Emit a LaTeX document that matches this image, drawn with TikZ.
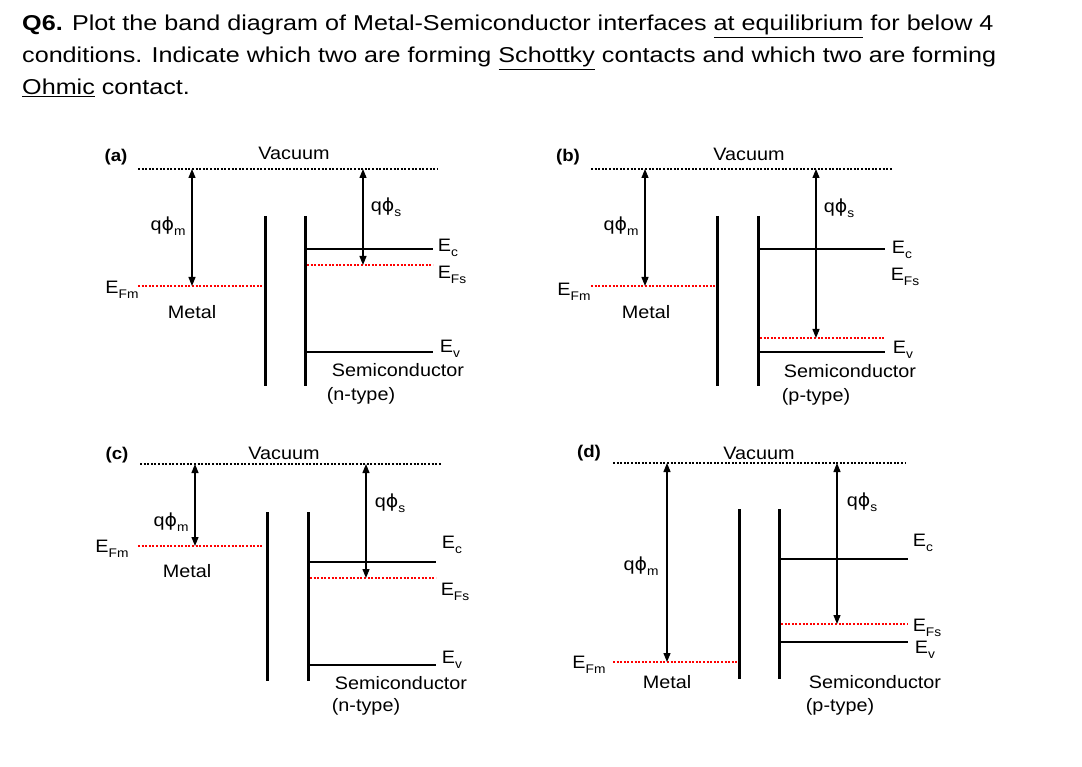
\documentclass[tikz,border=0pt]{standalone}
\usepackage{fontspec}
\setmainfont[FakeStretch=1.1]{Liberation Sans}
\newfontfamily\titlefont[FakeStretch=1.17]{Liberation Sans}
\newfontfamily\phifont[FakeStretch=1.05]{DejaVu Sans}
\usetikzlibrary{arrows.meta}
\newcommand{\lsub}[1]{\raisebox{-0.25em}{\fontsize{12.5}{12}\selectfont #1}}
\newcommand{\qphi}[1]{q{\phifont ϕ}\lsub{#1}}
\newcommand{\lev}[1]{E\lsub{#1}}
\tikzset{
  vac/.style={line width=1.9pt, dash pattern=on 1.9pt off 1.7pt},
  fermi/.style={vac, red},
  band/.style={line width=1.8pt},
  wall/.style={line width=3pt},
  dim/.style={line width=1.2pt, {Triangle[length=9pt,width=7pt]}-{Triangle[length=9pt,width=7pt]}},
  lbl/.style={font=\fontsize{18}{20}\selectfont, inner sep=0pt},
  tag/.style={font=\bfseries\fontsize{17}{20}\selectfont, inner sep=0pt},
  ttl/.style={font=\titlefont\fontsize{21.5}{24}\selectfont, inner sep=0pt, anchor=base west}
}
\begin{document}
\begin{tikzpicture}[x=1pt,y=-1pt]
\useasboundingbox (0,0) rectangle (1082,767);
% title
\node[ttl] (t1) at (22,31) {\textbf{Q6.} Plot the band diagram of Metal-Semiconductor interfaces \underline{at equilibrium} for below 4};
\node[ttl] (t2) at (22,63) {conditions. Indicate which two are forming \underline{Schottky} contacts and which two are forming};
\node[ttl] (t3) at (22,95) {\underline{Ohmic} contact.};

% ---------------- (a)
\node[tag] (a-tag) at (116,157) {(a)};
\node[lbl] (a-vac) at (294,153) {Vacuum};
\coordinate (a-v1) at (138,169); \coordinate (a-v2) at (438,169);
\draw[vac] (a-v1) -- (a-v2);
\coordinate (a-f1) at (138,286); \coordinate (a-f2) at (263,286);
\draw[fermi] (a-f1) -- (a-f2);
\coordinate (a-mt) at (192,169); \coordinate (a-mb) at (192,286);
\draw[dim] (a-mt) -- (a-mb);
\node[lbl] (a-qm) at (168,226) {\qphi{m}};
\node[lbl] (a-efm) at (122,290) {\lev{Fm}};
\node[lbl] (a-metal) at (192,312) {Metal};
\coordinate (a-w1t) at (265,216); \coordinate (a-w1b) at (265,386);
\draw[wall] (a-w1t) -- (a-w1b);
\coordinate (a-w2t) at (305,216); \coordinate (a-w2b) at (305,386);
\draw[wall] (a-w2t) -- (a-w2b);
\coordinate (a-c1) at (305,249); \coordinate (a-c2) at (433,249);
\draw[band] (a-c1) -- (a-c2);
\coordinate (a-s1) at (307,265); \coordinate (a-s2) at (433,265);
\draw[fermi] (a-s1) -- (a-s2);
\coordinate (a-v1b) at (305,352); \coordinate (a-v2b) at (433,352);
\draw[band] (a-v1b) -- (a-v2b);
\coordinate (a-st) at (363,169); \coordinate (a-sb) at (363,265);
\draw[dim] (a-st) -- (a-sb);
\node[lbl] (a-qs) at (386,207) {\qphi{s}};
\node[lbl] (a-ec) at (448,248) {\lev{c}};
\node[lbl] (a-efs) at (452,275) {\lev{Fs}};
\node[lbl] (a-ev) at (450,349) {\lev{v}};
\node[lbl] (a-semi) at (398,370) {Semiconductor};
\node[lbl] (a-type) at (361,396) {(n-type)};

% ---------------- (b)
\node[tag] (b-tag) at (568,157) {(b)};
\node[lbl] (b-vac) at (749,154) {Vacuum};
\coordinate (b-v1) at (591,169); \coordinate (b-v2) at (892,169);
\draw[vac] (b-v1) -- (b-v2);
\coordinate (b-f1) at (591,286); \coordinate (b-f2) at (716,286);
\draw[fermi] (b-f1) -- (b-f2);
\coordinate (b-mt) at (645,169); \coordinate (b-mb) at (645,286);
\draw[dim] (b-mt) -- (b-mb);
\node[lbl] (b-qm) at (621,226) {\qphi{m}};
\node[lbl] (b-efm) at (574,292) {\lev{Fm}};
\node[lbl] (b-metal) at (646,312) {Metal};
\coordinate (b-w1t) at (717,216); \coordinate (b-w1b) at (717,386);
\draw[wall] (b-w1t) -- (b-w1b);
\coordinate (b-w2t) at (758,216); \coordinate (b-w2b) at (758,386);
\draw[wall] (b-w2t) -- (b-w2b);
\coordinate (b-c1) at (758,249); \coordinate (b-c2) at (885,249);
\draw[band] (b-c1) -- (b-c2);
\coordinate (b-s1) at (760,338); \coordinate (b-s2) at (885,338);
\draw[fermi] (b-s1) -- (b-s2);
\coordinate (b-v1b) at (758,352); \coordinate (b-v2b) at (885,352);
\draw[band] (b-v1b) -- (b-v2b);
\coordinate (b-st) at (816,169); \coordinate (b-sb) at (816,338);
\draw[dim] (b-st) -- (b-sb);
\node[lbl] (b-qs) at (839,208) {\qphi{s}};
\node[lbl] (b-ec) at (902,250) {\lev{c}};
\node[lbl] (b-efs) at (905,277) {\lev{Fs}};
\node[lbl] (b-ev) at (903,350) {\lev{v}};
\node[lbl] (b-semi) at (850,371) {Semiconductor};
\node[lbl] (b-type) at (816,397) {(p-type)};

% ---------------- (c)
\node[tag] (c-tag) at (117,455) {(c)};
\node[lbl] (c-vac) at (284,453) {Vacuum};
\coordinate (c-v1) at (140,464); \coordinate (c-v2) at (442,464);
\draw[vac] (c-v1) -- (c-v2);
\coordinate (c-f1) at (138,546); \coordinate (c-f2) at (263,546);
\draw[fermi] (c-f1) -- (c-f2);
\coordinate (c-mt) at (195,464); \coordinate (c-mb) at (195,546);
\draw[dim] (c-mt) -- (c-mb);
\node[lbl] (c-qm) at (171,522) {\qphi{m}};
\node[lbl] (c-efm) at (112,549) {\lev{Fm}};
\node[lbl] (c-metal) at (187,571) {Metal};
\coordinate (c-w1t) at (267,512); \coordinate (c-w1b) at (267,681);
\draw[wall] (c-w1t) -- (c-w1b);
\coordinate (c-w2t) at (308,512); \coordinate (c-w2b) at (308,681);
\draw[wall] (c-w2t) -- (c-w2b);
\coordinate (c-c1) at (308,562); \coordinate (c-c2) at (436,562);
\draw[band] (c-c1) -- (c-c2);
\coordinate (c-s1) at (310,578); \coordinate (c-s2) at (436,578);
\draw[fermi] (c-s1) -- (c-s2);
\coordinate (c-v1b) at (308,665); \coordinate (c-v2b) at (436,665);
\draw[band] (c-v1b) -- (c-v2b);
\coordinate (c-st) at (366,464); \coordinate (c-sb) at (366,578);
\draw[dim] (c-st) -- (c-sb);
\node[lbl] (c-qs) at (390,503) {\qphi{s}};
\node[lbl] (c-ec) at (452,545) {\lev{c}};
\node[lbl] (c-efs) at (455,592) {\lev{Fs}};
\node[lbl] (c-ev) at (452,660) {\lev{v}};
\node[lbl] (c-semi) at (401,683) {Semiconductor};
\node[lbl] (c-type) at (366,707) {(n-type)};

% ---------------- (d)
\node[tag] (d-tag) at (589,453) {(d)};
\node[lbl] (d-vac) at (759,453) {Vacuum};
\coordinate (d-v1) at (613,463); \coordinate (d-v2) at (905,463);
\draw[vac] (d-v1) -- (d-v2);
\coordinate (d-f1) at (613,662); \coordinate (d-f2) at (738,662);
\draw[fermi] (d-f1) -- (d-f2);
\coordinate (d-mt) at (667,463); \coordinate (d-mb) at (667,662);
\draw[dim] (d-mt) -- (d-mb);
\node[lbl] (d-qm) at (641,566) {\qphi{m}};
\node[lbl] (d-efm) at (589,665) {\lev{Fm}};
\node[lbl] (d-metal) at (667,682) {Metal};
\coordinate (d-w1t) at (739,509); \coordinate (d-w1b) at (739,679);
\draw[wall] (d-w1t) -- (d-w1b);
\coordinate (d-w2t) at (779,509); \coordinate (d-w2b) at (779,679);
\draw[wall] (d-w2t) -- (d-w2b);
\coordinate (d-c1) at (779,559); \coordinate (d-c2) at (908,559);
\draw[band] (d-c1) -- (d-c2);
\coordinate (d-s1) at (781,624); \coordinate (d-s2) at (908,624);
\draw[fermi] (d-s1) -- (d-s2);
\coordinate (d-v1b) at (779,642); \coordinate (d-v2b) at (908,642);
\draw[band] (d-v1b) -- (d-v2b);
\coordinate (d-st) at (837,463); \coordinate (d-sb) at (837,624);
\draw[dim] (d-st) -- (d-sb);
\node[lbl] (d-qs) at (862,502) {\qphi{s}};
\node[lbl] (d-ec) at (923,543) {\lev{c}};
\node[lbl] (d-efs) at (927,628) {\lev{Fs}};
\node[lbl] (d-ev) at (925,650) {\lev{v}};
\node[lbl] (d-semi) at (875,682) {Semiconductor};
\node[lbl] (d-type) at (840,707) {(p-type)};
\end{tikzpicture}
\end{document}
